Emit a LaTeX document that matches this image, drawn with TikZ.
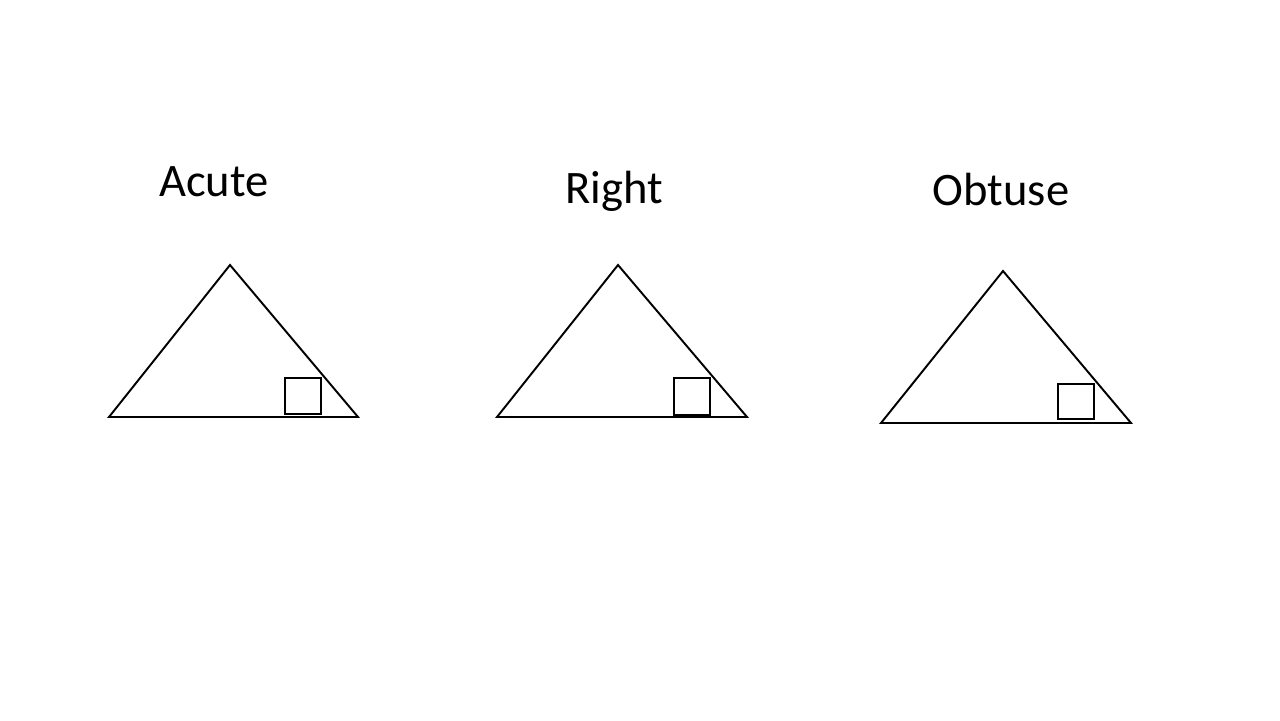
\documentclass[tikz,border=0pt]{standalone}
\usepackage{fontspec}
\setmainfont{Carlito}
\usepackage{tikz}

\begin{document}
\begin{tikzpicture}[x=0.02cm, y=-0.02cm, line width=1.1pt, line join=miter]
\useasboundingbox (0,0) rectangle (1280,720);
% Titulos
\node[anchor=base, font=\fontsize{26.5}{31}\selectfont] (tacute) at (214,196) {Acute};
\node[anchor=base, font=\fontsize{26.5}{31}\selectfont] (tright) at (614,203) {Right};
\node[anchor=base, font=\fontsize{26.5}{31}\selectfont] (tobtuse) at (1001,205) {Obtuse};

% Triangulo agudo
\coordinate (a1) at (230,265);
\coordinate (a2) at (109,417);
\coordinate (a3) at (358,417);
\draw (a1) -- (a2) -- (a3) -- cycle;
\draw[line width=0.9pt] (285,378) rectangle (321,414);

% Triangulo reto
\coordinate (r1) at (618,265);
\coordinate (r2) at (497,417);
\coordinate (r3) at (747,417);
\draw (r1) -- (r2) -- (r3) -- cycle;
\draw[line width=0.9pt] (674,378) rectangle (710,415);

% Triangulo obtuso
\coordinate (o1) at (1003,271);
\coordinate (o2) at (881,423);
\coordinate (o3) at (1131,423);
\draw (o1) -- (o2) -- (o3) -- cycle;
\draw[line width=0.9pt] (1058,384) rectangle (1094,419);
\end{tikzpicture}
\end{document}
